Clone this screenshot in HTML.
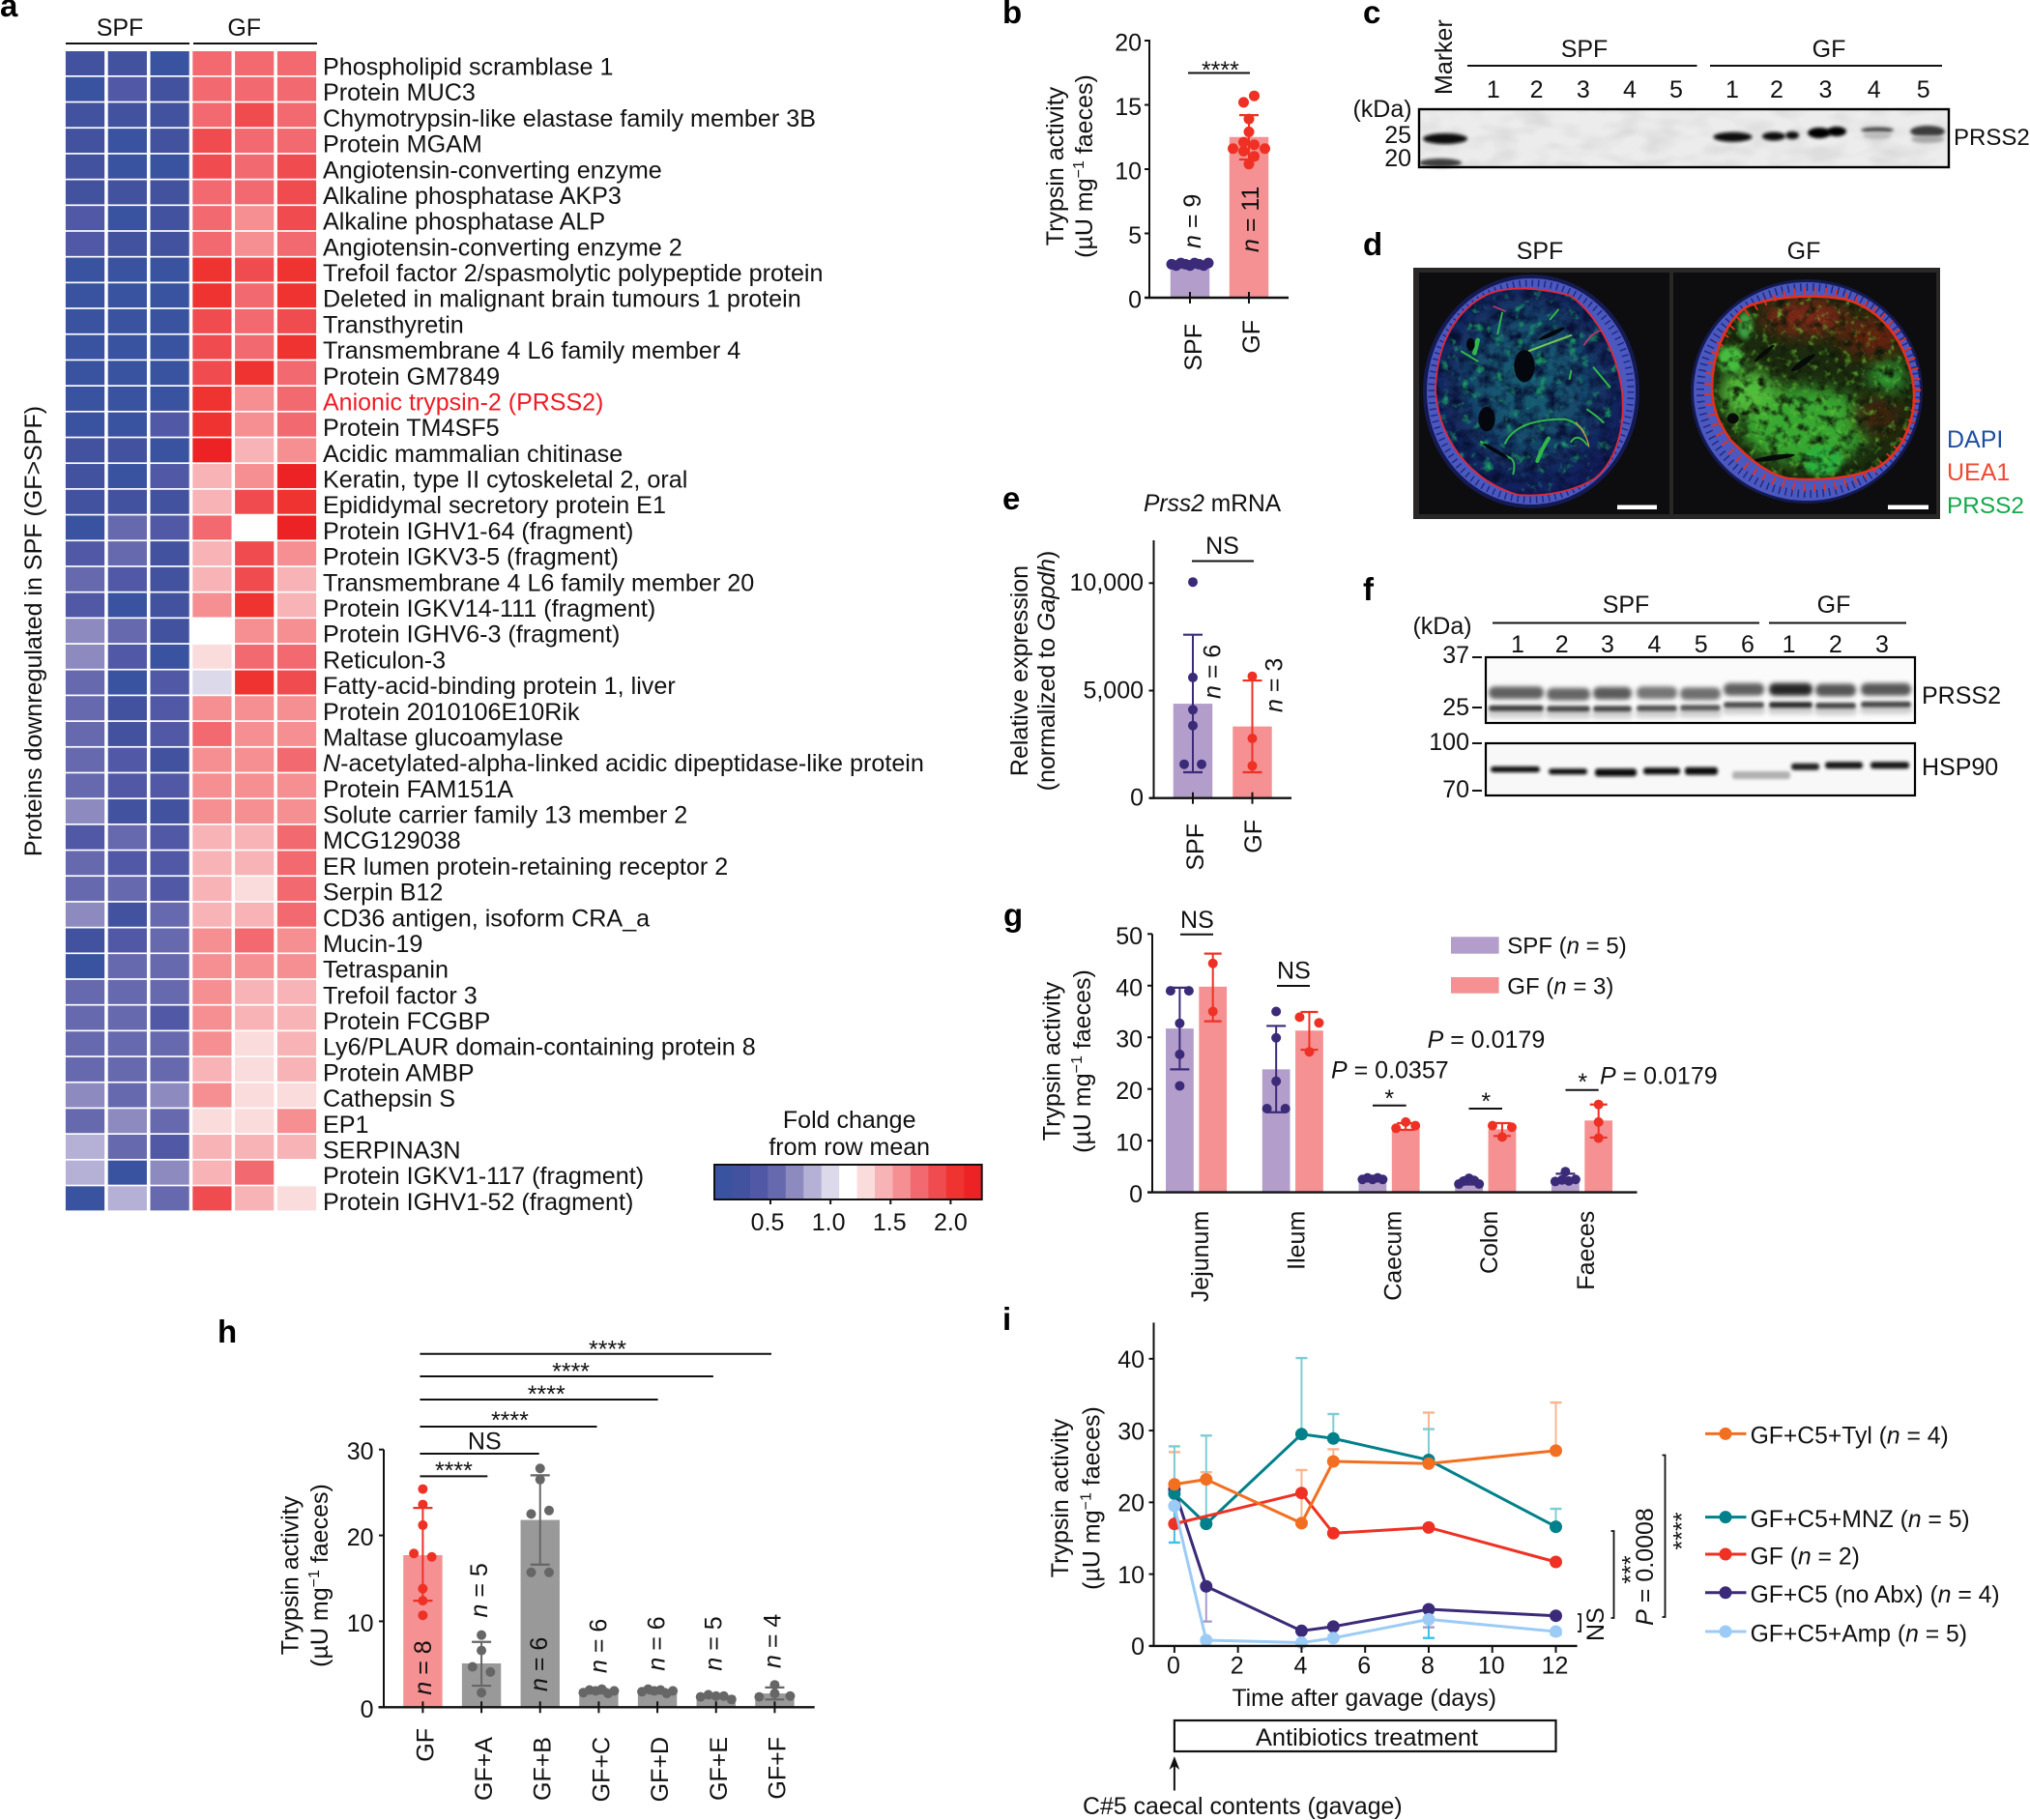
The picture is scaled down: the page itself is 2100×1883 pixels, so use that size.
<!DOCTYPE html>
<html lang="en">
<head>
<meta charset="utf-8">
<title>Trypsin activity figure</title>
<style>
html,body{margin:0;padding:0;background:#fff;width:2100px;height:1883px;overflow:hidden}
svg{display:block;font-family:"Liberation Sans",Arial,sans-serif;font-size:25px;fill:#111}
.pl{font-weight:bold;font-size:33px;fill:#000}
</style>
</head>
<body>
<svg id="fig" xmlns="http://www.w3.org/2000/svg" width="2100" height="1883" viewBox="0 0 2100 1883">
<defs>
<filter id="blur1" x="-30%" y="-150%" width="160%" height="400%"><feGaussianBlur stdDeviation="1.5"/></filter>
<filter id="blur2" x="-30%" y="-150%" width="160%" height="400%"><feGaussianBlur stdDeviation="2.4"/></filter>
<filter id="blurLump" x="-60%" y="-60%" width="220%" height="220%"><feGaussianBlur stdDeviation="24"/></filter>
<filter id="blurSoft" x="-60%" y="-60%" width="220%" height="220%"><feGaussianBlur stdDeviation="7"/></filter>
<filter id="noiseBlot" x="0" y="0" width="1" height="1" color-interpolation-filters="sRGB"><feTurbulence type="fractalNoise" baseFrequency="0.03 0.06" numOctaves="2" seed="5"/><feColorMatrix type="matrix" values="0 0 0 0 0.6  0 0 0 0 0.6  0 0 0 0 0.6  0 0.5 0 0 -0.2"/></filter>
<filter id="noiseTealL" x="0" y="0" width="1" height="1" color-interpolation-filters="sRGB"><feTurbulence type="fractalNoise" baseFrequency="0.09" numOctaves="3" seed="3"/><feColorMatrix type="matrix" values="0 0 0 0 0.03  0 0 0 0 0.06  0 0 0 0 0.2  0 2.2 0 0 -0.8"/></filter>
<filter id="noiseGreenL" x="0" y="0" width="1" height="1" color-interpolation-filters="sRGB"><feTurbulence type="fractalNoise" baseFrequency="0.09" numOctaves="3" seed="11"/><feColorMatrix type="matrix" values="0 0 0 0 0.1  0 0 0 0 0.62  0 0 0 0 0.38  0 3.6 0 0 -2.15"/></filter>
<filter id="noiseGreenR" x="0" y="0" width="1" height="1" color-interpolation-filters="sRGB"><feTurbulence type="fractalNoise" baseFrequency="0.13" numOctaves="3" seed="7"/><feColorMatrix type="matrix" values="0 0 0 0 0.38  0 0 0 0 0.75  0 0 0 0 0.2  0 2.6 0 0 -1.45"/></filter>
<filter id="noiseDarkR" x="0" y="0" width="1" height="1" color-interpolation-filters="sRGB"><feTurbulence type="fractalNoise" baseFrequency="0.1" numOctaves="3" seed="21"/><feColorMatrix type="matrix" values="0 0 0 0 0.06  0 0 0 0 0.1  0 0 0 0 0.03  0 2.6 0 0 -1.2"/></filter>
<clipPath id="clipL"><path d="M1485 405 C1486 350 1510 318 1540 304 C1560 296 1590 297 1625 306 C1650 325 1672 360 1678 405 C1682 450 1668 480 1650 495 C1625 510 1595 514 1570 512 C1530 500 1490 465 1485 405Z"/></clipPath>
<clipPath id="clipR"><path d="M1771 400 C1772 360 1790 325 1810 316 C1840 306 1880 304 1910 310 C1945 320 1970 350 1979 395 C1984 430 1970 465 1945 482 C1920 495 1880 498 1850 495 C1825 490 1805 470 1790 455 C1780 440 1771 425 1771 400Z"/></clipPath>
</defs>

<!-- panel letters -->
<g>
<text class="pl" x="0" y="17">a</text>
<text class="pl" x="1037" y="24">b</text>
<text class="pl" x="1410" y="24">c</text>
<text class="pl" x="1410" y="264">d</text>
<text class="pl" x="1037" y="527">e</text>
<text class="pl" x="1410" y="621">f</text>
<text class="pl" x="1038" y="958">g</text>
<text class="pl" x="225" y="1389">h</text>
<text class="pl" x="1037" y="1376">i</text>
</g>

<!-- panel c blot labels -->
<g>
<rect x="1468" y="113" width="548" height="60" fill="#ececec"/>
<rect x="1468" y="113" width="548" height="60" fill="#000" filter="url(#noiseBlot)"/>
<g id="blotC"></g>
<rect x="1468" y="113" width="548" height="60" fill="none" stroke="#000" stroke-width="2.4"/>
<text x="1502" y="98" transform="rotate(-90 1502 98)">Marker</text>
<text x="1639" y="59" text-anchor="middle">SPF</text>
<text x="1892" y="59" text-anchor="middle">GF</text>
<line x1="1518" y1="68" x2="1755.5" y2="68" stroke="#111" stroke-width="2"/>
<line x1="1769" y1="68" x2="2009" y2="68" stroke="#111" stroke-width="2"/>
<text x="1430" y="121" text-anchor="middle">(kDa)</text>
<text x="1460" y="148" text-anchor="end">25</text>
<text x="1460" y="172" text-anchor="end">20</text>
<text x="2021" y="150" font-size="24">PRSS2</text>
</g>

<!-- panel d -->
<g>
<text x="1593" y="268" text-anchor="middle">SPF</text>
<text x="1866" y="268" text-anchor="middle">GF</text>
<rect x="1462" y="277" width="545" height="260" fill="#2a2727"/>
<rect x="1468" y="282" width="259" height="250" fill="#0d0d0f"/>
<rect x="1731" y="282" width="272" height="250" fill="#0d0d0f"/>

<g>
<ellipse cx="1584" cy="405" rx="112" ry="121" fill="#141a52"/>
<ellipse cx="1584" cy="405" rx="108" ry="117" fill="#4a58c0"/>
<ellipse cx="1584" cy="405" rx="103" ry="112" fill="none" stroke="#222a80" stroke-width="7" stroke-dasharray="1.5 5"/>
<path d="M1485 405 C1486 350 1510 318 1540 304 C1560 296 1590 297 1625 306 C1650 325 1672 360 1678 405 C1682 450 1668 480 1650 495 C1625 510 1595 514 1570 512 C1530 500 1490 465 1485 405Z" fill="#141c5c"/>
<g clip-path="url(#clipL)">
<ellipse cx="1580" cy="395" rx="72" ry="80" fill="#125a72" filter="url(#blurLump)"/>
<rect x="1480" y="295" width="205" height="225" fill="#000" filter="url(#noiseTealL)"/>
<rect x="1480" y="295" width="205" height="225" fill="#000" filter="url(#noiseGreenL)"/>
<g transform="translate(1462 277) scale(.3333)" fill="none" stroke-linecap="round">
<g stroke="#31b84a" stroke-width="6">
<path d="M276 140 L262 205"/>
<path d="M350 262 Q420 235 490 210" stroke="#7ac850"/>
<path d="M285 545 Q320 470 470 470 Q510 480 530 510"/>
<path d="M385 600 Q400 560 420 530" stroke-width="12"/>
<path d="M210 540 Q250 570 300 590"/>
<path d="M540 440 Q570 460 590 480"/>
<path d="M200 225 L190 265" stroke-width="14"/>
<path d="M490 540 Q510 510 540 550"/>
<path d="M310 640 Q320 600 300 590"/>
<path d="M450 130 L425 160"/>
<path d="M490 320 L485 345"/>
<path d="M560 310 L610 370"/>
<path d="M150 260 L200 290"/>
</g>
<g stroke="#d8396a" stroke-width="4">
<path d="M530 240 Q560 195 585 195"/>
<path d="M250 120 L285 135"/>
</g>
<path d="M505 480 Q540 520 545 555" stroke="#c89a50" stroke-width="4"/>
</g>
<g transform="translate(1462 277) scale(.3333)" fill="#05070f">
<ellipse cx="345" cy="305" rx="32" ry="50"/>
<ellipse cx="228" cy="470" rx="26" ry="38"/>
<ellipse cx="178" cy="238" rx="13" ry="20"/>
<ellipse cx="430" cy="205" rx="45" ry="7" transform="rotate(-25 430 205)"/>
<ellipse cx="255" cy="568" rx="45" ry="6" transform="rotate(30 255 568)"/>
</g>
</g>
<path d="M1485 405 C1486 350 1510 318 1540 304 C1560 296 1590 297 1625 306 C1650 325 1672 360 1678 405 C1682 450 1668 480 1650 495 C1625 510 1595 514 1570 512 C1530 500 1490 465 1485 405Z" fill="none" stroke="#e0283a" stroke-width="1.8"/>
</g>

<g>
<ellipse cx="1869" cy="405" rx="120" ry="116" fill="#141a52"/>
<ellipse cx="1869" cy="405" rx="117" ry="113" fill="#4a58c0"/>
<ellipse cx="1871" cy="404" rx="112" ry="107" fill="none" stroke="#222a80" stroke-width="8" stroke-dasharray="1.5 5"/>
<path d="M1771 400 C1772 360 1790 325 1810 316 C1840 306 1880 304 1910 310 C1945 320 1970 350 1979 395 C1984 430 1970 465 1945 482 C1920 495 1880 498 1850 495 C1825 490 1805 470 1790 455 C1780 440 1771 425 1771 400Z" fill="#1b2a0e"/>
<g clip-path="url(#clipR)">
<g transform="translate(1462 277) scale(.3333)">
<ellipse cx="1220" cy="490" rx="200" ry="120" fill="#37a832" filter="url(#blurLump)"/>
<ellipse cx="1040" cy="390" rx="90" ry="75" fill="#4fbc3a" filter="url(#blurLump)"/>
<ellipse cx="985" cy="285" rx="42" ry="42" fill="#45bd3c" filter="url(#blurSoft)"/>
<ellipse cx="1030" cy="180" rx="24" ry="42" fill="#3da040" filter="url(#blurSoft)"/>
<ellipse cx="1270" cy="600" rx="65" ry="45" fill="#2cb03c" filter="url(#blurSoft)"/>
<ellipse cx="1470" cy="340" rx="55" ry="55" fill="#2f9a30" filter="url(#blurLump)"/>
<ellipse cx="1220" cy="155" rx="140" ry="55" fill="#7a2612" filter="url(#blurLump)"/>
<ellipse cx="1420" cy="215" rx="100" ry="60" fill="#642010" filter="url(#blurLump)"/>
<ellipse cx="1440" cy="460" rx="75" ry="60" fill="#3e2410" filter="url(#blurLump)"/>
</g>
<rect x="1765" y="298" width="222" height="205" fill="#000" filter="url(#noiseGreenR)"/>
<rect x="1765" y="298" width="222" height="205" fill="#000" filter="url(#noiseDarkR)"/>
<g transform="translate(1462 277) scale(.3333)" fill="#060a08">
<ellipse cx="1210" cy="295" rx="45" ry="9" transform="rotate(-35 1210 295)"/>
<ellipse cx="992" cy="468" rx="18" ry="16"/>
<ellipse cx="1120" cy="590" rx="65" ry="8" transform="rotate(-8 1120 590)"/>
<ellipse cx="1090" cy="265" rx="40" ry="6" transform="rotate(-40 1090 265)"/>
</g>
</g>
<ellipse cx="1875" cy="403" rx="108" ry="102" fill="none" stroke="#e3301f" stroke-width="8" stroke-dasharray="1.8 9"/>
<path d="M1771 400 C1772 360 1790 325 1810 316 C1840 306 1880 304 1910 310 C1945 320 1970 350 1979 395 C1984 430 1970 465 1945 482 C1920 495 1880 498 1850 495 C1825 490 1805 470 1790 455 C1780 440 1771 425 1771 400Z" fill="none" stroke="#e3301f" stroke-width="2.6"/>
</g>
<rect x="1673" y="522.5" width="41" height="4.5" fill="#fff"/>
<rect x="1953" y="522.5" width="42" height="4.5" fill="#fff"/>
<text x="2014" y="463" style="fill:#1f4ea1">DAPI</text>
<text x="2014" y="497" style="fill:#ef4a32">UEA1</text>
<text x="2014" y="531" font-size="24.4" style="fill:#14a84b">PRSS2</text>
</g>

<!-- panel f -->
<g>
<rect x="1537" y="680" width="444" height="68" fill="#fbfbfb"/>
<rect x="1537" y="769" width="444" height="54" fill="#f8f8f8"/>
<g id="blotF"></g>
<rect x="1537" y="680" width="444" height="68" fill="none" stroke="#000" stroke-width="2.2"/>
<rect x="1537" y="769" width="444" height="54" fill="none" stroke="#000" stroke-width="2.2"/>
<text x="1682" y="634" text-anchor="middle">SPF</text>
<text x="1897" y="634" text-anchor="middle">GF</text>
<line x1="1544" y1="644.5" x2="1820" y2="644.5" stroke="#111" stroke-width="2"/>
<line x1="1830" y1="644.5" x2="1972" y2="644.5" stroke="#111" stroke-width="2"/>
<text x="1492" y="656" text-anchor="middle">(kDa)</text>
<text x="1520" y="686" text-anchor="end">37</text>
<text x="1520" y="740" text-anchor="end">25</text>
<text x="1520" y="776" text-anchor="end">100</text>
<text x="1520" y="825" text-anchor="end">70</text>
<g stroke="#111" stroke-width="2">
<line x1="1523" y1="680" x2="1533" y2="680"/><line x1="1523" y1="732" x2="1533" y2="732"/><line x1="1523" y1="769" x2="1533" y2="769"/><line x1="1523" y1="818" x2="1533" y2="818"/>
</g>
<text x="1988" y="728">PRSS2</text>
<text x="1988" y="802">HSP90</text>
</g>

<!-- chart layers -->
<g id="panelA"></g>
<g id="panelB"></g>
<g id="panelE"></g>
<g id="panelG"></g>
<g id="panelH"></g>
<g id="panelI"></g>
</svg>

<script>
/* ---------- panel a data ---------- */
const proteins = ['Phospholipid scramblase 1','Protein MUC3','Chymotrypsin-like elastase family member 3B','Protein MGAM','Angiotensin-converting enzyme','Alkaline phosphatase AKP3','Alkaline phosphatase ALP','Angiotensin-converting enzyme 2','Trefoil factor 2/spasmolytic polypeptide protein','Deleted in malignant brain tumours 1 protein','Transthyretin','Transmembrane 4 L6 family member 4','Protein GM7849','Anionic trypsin-2 (PRSS2)','Protein TM4SF5','Acidic mammalian chitinase','Keratin, type II cytoskeletal 2, oral','Epididymal secretory protein E1','Protein IGHV1-64 (fragment)','Protein IGKV3-5 (fragment)','Transmembrane 4 L6 family member 20','Protein IGKV14-111 (fragment)','Protein IGHV6-3 (fragment)','Reticulon-3','Fatty-acid-binding protein 1, liver','Protein 2010106E10Rik','Maltase glucoamylase','<tspan font-style="italic">N</tspan>-acetylated-alpha-linked acidic dipeptidase-like protein','Protein FAM151A','Solute carrier family 13 member 2','MCG129038','ER lumen protein-retaining receptor 2','Serpin B12','CD36 antigen, isoform CRA_a','Mucin-19','Tetraspanin','Trefoil factor 3','Protein FCGBP','Ly6/PLAUR domain-containing protein 8','Protein AMBP','Cathepsin S','EP1','SERPINA3N','Protein IGKV1-117 (fragment)','Protein IGHV1-52 (fragment)'];
const highlightedProtein = 'Anionic trypsin-2 (PRSS2)';
const spfFold = [[.26,.26,.11],[.11,.41,.26],[.26,.26,.26],[.26,.11,.26],[.26,.11,.11],[.26,.26,.26],[.41,.11,.26],[.41,.26,.26],[.11,.11,.11],[.11,.11,.11],[.11,.11,.11],[.11,.11,.11],[.11,.11,.11],[.11,.11,.11],[.11,.11,.41],[.26,.26,.11],[.26,.11,.41],[.26,.26,.26],[.11,.55,.41],[.41,.55,.26],[.55,.41,.26],[.41,.11,.26],[.70,.55,.26],[.70,.41,.11],[.55,.11,.41],[.55,.26,.41],[.55,.26,.41],[.55,.41,.26],[.55,.41,.41],[.70,.26,.26],[.41,.55,.41],[.55,.41,.41],[.55,.55,.41],[.70,.26,.55],[.26,.41,.55],[.11,.55,.55],[.55,.55,.55],[.55,.55,.41],[.55,.55,.55],[.55,.55,.55],[.70,.55,.70],[.55,.70,.55],[.85,.55,.41],[.85,.11,.70],[.11,.85,.55]];
const gfFold = [[1.74,1.74,1.74],[1.74,1.74,1.74],[1.74,1.89,1.74],[1.89,1.74,1.74],[1.89,1.74,1.89],[1.74,1.74,1.89],[1.74,1.59,1.89],[1.74,1.59,1.74],[2.04,1.89,2.04],[2.04,1.74,2.04],[1.89,1.74,1.89],[1.89,1.74,2.04],[1.89,2.04,1.74],[2.04,1.59,1.74],[2.04,1.59,1.74],[2.19,1.44,1.59],[1.44,1.59,2.19],[1.44,1.89,2.04],[1.74,1.15,2.19],[1.44,1.89,1.59],[1.44,1.89,1.44],[1.59,2.04,1.44],[1.15,1.59,1.59],[1.30,1.74,1.74],[1.00,2.04,1.89],[1.59,1.59,1.59],[1.74,1.59,1.59],[1.59,1.59,1.74],[1.59,1.59,1.59],[1.59,1.59,1.59],[1.44,1.44,1.74],[1.44,1.44,1.74],[1.44,1.30,1.74],[1.44,1.44,1.74],[1.59,1.74,1.59],[1.59,1.59,1.59],[1.59,1.44,1.44],[1.59,1.44,1.44],[1.59,1.30,1.44],[1.44,1.30,1.44],[1.59,1.30,1.30],[1.30,1.30,1.59],[1.44,1.44,1.44],[1.44,1.74,1.15],[1.89,1.44,1.30]];
const colorbarTicks = [0.5, 1.0, 1.5, 2.0];
const colorbarTickLabels = ['0.5','1.0','1.5','2.0'];
const foldMin = 0.033, foldMax = 2.26;

/* ---------- panel b data ---------- */
const bCategories = ['SPF','GF'];
const bMeans = [2.6, 12.5];
const bErrHigh = [2.85, 14.2];
const bErrLow = [2.35, 10.75];
const bPoints = [[2.6,2.5,2.7,2.6,2.5,2.7,2.6,2.5,2.7],[15.2,15.7,13.9,12.9,11.6,12.1,11.9,11.4,11.6,11.0,10.4]];
const bTicks = [0,5,10,15,20];
const bNLabels = ['9','11'];

/* ---------- panel e data ---------- */
const eCategories = ['SPF','GF'];
const eMeans = [4390, 3330];
const eErrHigh = [7600, 5470];
const eErrLow = [1200, 1200];
const ePoints = [[10050,5610,4110,3372,1574,1574],[5666,2774,1500]];
const eTicks = [0,5000,10000];
const eTickLabels = ['0','5,000','10,000'];
const eNLabels = ['6','3'];

/* ---------- panel g data ---------- */
const gCategories = ['Jejunum','Ileum','Caecum','Colon','Faeces'];
const gSpfMeans = [31.7,23.8,2.7,2.0,2.8];
const gGfMeans = [39.8,31.3,12.3,12.2,13.9];
const gSpfErrHigh = [39.6,32.2,3.0,2.6,3.6];
const gSpfErrLow = [23.8,15.5,2.4,1.5,2.1];
const gGfErrHigh = [46.2,34.9,13.4,13.4,17];
const gGfErrLow = [33.1,27.6,12.1,10.9,10.6];
const gSpfPoints = [[39,39,32.7,26.7,20.6],[35,29.9,21.5,16.2,16.2],[2.5,2.8,2.5,2.8,2.5],[1.6,2.2,2.7,2.3,1.6],[2.1,4,2.4,2.2,2.5]];
const gGfPoints = [[44.3,35],[33.9,32.8,27.2],[12.4,13.6,12.9],[12.9,12.6,10.7],[17,13.6,10.5]];
const gTicks = [0,10,20,30,40,50];

/* ---------- panel h data ---------- */
const hCategories = ['GF','GF+A','GF+B','GF+C','GF+D','GF+E','GF+F'];
const hMeans = [17.7,5.1,21.8,1.9,1.9,1.35,1.6];
const hErrHigh = [23.2,7.6,27,2.1,2.1,1.5,2.3];
const hErrLow = [12.4,2.5,16.6,1.6,1.6,1.1,0.9];
const hPoints = [[25.4,23.6,21.2,17.9,17.5,13.8,12.4,10.7],[8.4,6.6,4.7,4.1,1.7],[27.8,26.5,22.5,22.9,15.7,15.7],[1.7,2,1.9,2.1,1.6,1.9],[1.8,2.1,1.9,2.0,1.6,1.9],[1.2,1.45,1.3,1.3,0.9],[1.2,2.6,1.6,1.3]];
const hTicks = [0,10,20,30];
const hNLabels = ['8','5','6','6','6','5','4'];

/* ---------- panel i data ---------- */
const iDays = [0,1,4,5,8,12];
const iDaysGF = [0,4,5,8,12];
const iXTicks = [0,2,4,6,8,10,12];
const iYTicks = [0,10,20,30,40];
const iTyl = [22.5,23.2,17.1,25.7,25.4,27.2];
const iTylErrHigh = [27,24.2,24.5,27.4,32.5,33.9];
const iMNZ = [21.2,17,29.5,28.9,25.9,16.6];
const iMNZErrHigh = [27.8,29.3,40.1,32.3,30.2,19.1];
const iGF = [17,21.3,15.7,16.5,11.7];
const iNoAbx = [21.8,8.3,2.1,2.7,5.1,4.2];
const iNoAbxErrLow = [21.8,3.4,2.1,2.7,2.6,4.2];
const iAmp = [19.5,0.8,0.45,1.1,3.7,2];
const iAmpErrLow = [14.4,0.8,0.45,1.1,1.1,1.6];

/* ---------- styles ---------- */
const foldColors = ['#3a53a0','#42529f','#5159a6','#6669ae','#8d8abf','#b4b0d6','#dcd9ea','#ffffff','#fadcdc','#f8b3b7','#f58f92','#f26a70','#f04c50','#ee3330','#ec2224'];
const PURPLE='#3b2a78', RED='#ee3124', BAR_P='#b39ecb', BAR_R='#f59193', GREY='#999999', GREY_D='#666666';

/* ---------- helpers ---------- */
const SVGNS='http://www.w3.org/2000/svg';
function el(tag, attrs, parent, name) {
  const e=document.createElementNS(SVGNS,tag);
  for(const k in attrs) e.setAttribute(k,attrs[k]);
  
  
  parent.appendChild(e);
  return e;
}
function ln(p,x1,y1,x2,y2,c,w,name){ return el('line',{x1:x1,y1:y1,x2:x2,y2:y2,stroke:c,'stroke-width':w},p,name); }
function tx(p,x,y,html,name,o){
  o=o||{};
  const a={x:x,y:y};
  if(o.anchor) a['text-anchor']=o.anchor;
  if(o.rot) a.transform='rotate(-90 '+x+' '+y+')';
  if(o.size) a['font-size']=o.size;
  if(o.fill) a.style='fill:'+o.fill;
  const t=el('text',a,p,name);
  t.innerHTML=html;
  return t;
}
function linear(d0,d1,r0,r1){ return v=>r0+(v-d0)*(r1-r0)/(d1-d0); }
function yAxis(p,x,top,bottom,ticks,y,labels,labelX,labelDy){
  ln(p,x,top,x,bottom,'#111',2,'y-axis-line');
  ticks.forEach((t,i)=>{
    ln(p,x-5,y(t),x,y(t),'#111',2,'y-axis-tick');
    tx(p,labelX,y(t)+labelDy,labels?labels[i]:String(t),'y-axis-tick-label',{anchor:'end'});
  });
}
const ACT1='Trypsin activity';
const ACT2='(µU mg<tspan font-size="16" dy="-9">−1</tspan><tspan dy="9"> faeces)</tspan>';
function yTitle(p,x,cy,html){ tx(p,x,cy,html,'y-axis-title',{rot:true,anchor:'middle'}); }
function bar(p,cx,w,v,y,c,name){ el('rect',{x:cx-w/2,y:y(v),width:w,height:y(0)-y(v),fill:c},p,name); }
function err(p,cx,hi,lo,y,c,capW){
  ln(p,cx,y(hi),cx,y(lo),c,2,'error-bar');
  ln(p,cx-capW/2,y(hi),cx+capW/2,y(hi),c,2.2,'error-cap-upper');
  ln(p,cx-capW/2,y(lo),cx+capW/2,y(lo),c,2.2,'error-cap-lower');
}
/* Prism-style scatter: points close in y share a row and are spread symmetrically */
function scatter(p,cx,vals,y,c,o){
  const idx=vals.map((v,i)=>i).sort((a,b)=>vals[b]-vals[a]||a-b);
  const bins=[]; let cur=null;
  idx.forEach(i=>{
    if(cur && Math.abs(y(vals[cur[0]])-y(vals[i]))<=o.bin) cur.push(i);
    else { cur=[i]; bins.push(cur); }
  });
  bins.forEach(b=>{
    b.sort((m,n)=>m-n);
    const step=b.length>1?Math.min(o.step,o.maxW/(b.length-1)):0;
    b.forEach((i,k)=>{
      el('circle',{cx:cx+(k-(b.length-1)/2)*step,cy:y(vals[i]),r:o.r,fill:c},p,'data-point');
    });
  });
}
function nLabel(p,x,y,val){ tx(p,x,y,'<tspan font-style="italic">n</tspan> = '+val,'sample-size-label',{rot:true}); }
function sigLine(p,x1,x2,y){ ln(p,x1,y,x2,y,'#111',2,'significance-line'); }

/* ---------- panel a ---------- */
(function(){
  const g=document.getElementById('panelA');
  const colX=c=>67.9+43.8*c, rowY=r=>53+26.69*r;
  const colorOf=v=>foldColors[Math.max(0,Math.min(14,Math.floor((v-foldMin)/((foldMax-foldMin)/15))))];
  tx(g,124,37,'SPF','heatmap-spf-label',{anchor:'middle'});
  tx(g,252.7,37,'GF','heatmap-gf-label',{anchor:'middle'});
  ln(g,68,45,196,45,'#111',2,'heatmap-spf-bracket');
  ln(g,200,45,328,45,'#111',2,'heatmap-gf-bracket');
  proteins.forEach((name,r)=>{
    const row=spfFold[r].concat(gfFold[r]);
    row.forEach((v,c)=>{
      el('rect',{x:colX(c),y:rowY(r),width:40.2,height:25,fill:colorOf(v)},g,'heatmap-cell');
    });
    const opt=name===highlightedProtein?{fill:'#ee1c25',size:25}:{size:25.15};
    tx(g,334,rowY(r)+24.5,name,'protein-label',opt);
  });
  tx(g,43,653,'Proteins downregulated in SPF (GF&gt;SPF)','heatmap-y-title',{rot:true,anchor:'middle'});
  /* colour bar */
  const cb=linear(foldMin,foldMax,739,1015.7);
  const lw=(foldMax-foldMin)/15;
  foldColors.forEach((c,i)=>{
    el('rect',{x:cb(foldMin+i*lw),y:1205,width:cb(foldMin+lw)-cb(foldMin)+0.4,height:36,fill:c},g,'colorbar-segment');
  });
  el('rect',{x:739,y:1205,width:276.7,height:36,fill:'none',stroke:'#111','stroke-width':2},g,'colorbar-frame');
  colorbarTicks.forEach((t,i)=>{
    ln(g,cb(t),1241,cb(t),1246,'#111',2,'colorbar-tick');
    tx(g,cb(t)-3+(t-0.5)*2,1273,colorbarTickLabels[i],'colorbar-tick-label',{anchor:'middle'});
  });
  tx(g,878.7,1167,'Fold change','colorbar-title-line-1',{anchor:'middle'});
  tx(g,878.7,1195,'from row mean','colorbar-title-line-2',{anchor:'middle'});
})();

/* ---------- panel b ---------- */
(function(){
  const g=document.getElementById('panelB');
  const y=linear(0,20,308,42);
  const cx=[1231,1292];
  const fills=[BAR_P,BAR_R], dark=[PURPLE,RED];
  const nX=[1242,1302], nY=[257,261], labX=[1243,1303], labY=[335,331];
  bCategories.forEach((c,i)=>{
    bar(g,cx[i],40.5,bMeans[i],y,fills[i],'bar-'+c.toLowerCase());
    ln(g,cx[i],y(0)-6,cx[i],y(0)+6,'#111',2,'x-axis-tick');
    err(g,cx[i],bErrHigh[i],bErrLow[i],y,dark[i],20);
    scatter(g,cx[i],bPoints[i],y,dark[i],{r:5.5,bin:8,step:11,maxW:38});
    nLabel(g,nX[i],nY[i],bNLabels[i]);
    tx(g,labX[i],labY[i],c,'x-axis-label',{rot:true,anchor:'end'});
  });
  yAxis(g,1189,41,308,bTicks,y,null,1181,10.3);
  ln(g,1184,308,1333,308,'#111',2.4,'x-axis-line');
  yTitle(g,1100,172,ACT1);
  yTitle(g,1130,172,ACT2);
  sigLine(g,1229,1293,75.5);
  tx(g,1262.4,81,'****','significance-stars',{anchor:'middle'});
})();

/* ---------- panel e ---------- */
(function(){
  const g=document.getElementById('panelE');
  const y=linear(0,10000,825.7,603.3);
  const cx=[1234,1295.5];
  const fills=[BAR_P,BAR_R], dark=[PURPLE,RED];
  const nX=[1262.5,1326.5], nY=[723,737], labX=[1245,1305], labY=[852,848];
  eCategories.forEach((c,i)=>{
    bar(g,cx[i],40.5,eMeans[i],y,fills[i],'bar-'+c.toLowerCase());
    ln(g,cx[i],y(0)-6,cx[i],y(0)+6,'#111',2,'x-axis-tick');
    err(g,cx[i],eErrHigh[i],eErrLow[i],y,dark[i],20);
    scatter(g,cx[i],ePoints[i],y,dark[i],{r:5,bin:7,step:18,maxW:34});
    nLabel(g,nX[i],nY[i],eNLabels[i]);
    tx(g,labX[i],labY[i],c,'x-axis-label',{rot:true,anchor:'end'});
  });
  yAxis(g,1193.5,559,825.7,eTicks,y,eTickLabels,1183,7.8);
  ln(g,1189,825.7,1336,825.7,'#111',2.4,'x-axis-line');
  yTitle(g,1063,694,'Relative expression');
  yTitle(g,1091,694,'(normalized to <tspan font-style="italic">Gapdh</tspan>)');
  tx(g,1183,529,'<tspan font-style="italic">Prss2</tspan> mRNA','chart-title',{size:24.6});
  sigLine(g,1233,1297,580.5);
  tx(g,1264.5,573,'NS','significance-ns',{anchor:'middle'});
})();

/* ---------- panel g ---------- */
(function(){
  const g=document.getElementById('panelG');
  const y=linear(0,50,1233.6,966.3);
  const group=i=>1220.4+99.75*i;
  gCategories.forEach((c,i)=>{
    const a=group(i), b=a+34.3;
    bar(g,a,28.8,gSpfMeans[i],y,BAR_P,'bar-spf-'+c.toLowerCase());
    bar(g,b,28.8,gGfMeans[i],y,BAR_R,'bar-gf-'+c.toLowerCase());
    err(g,a,gSpfErrHigh[i],gSpfErrLow[i],y,PURPLE,20);
    err(g,b,gGfErrHigh[i],gGfErrLow[i],y,RED,18);
    scatter(g,a,gSpfPoints[i],y,PURPLE,{r:5,bin:7,step:19,maxW:21});
    scatter(g,b,gGfPoints[i],y,RED,{r:5,bin:7,step:20,maxW:20});
    tx(g,a+29.5,1252.7,c,'x-axis-label',{rot:true,anchor:'end'});
  });
  yAxis(g,1192,966.3,1233.6,gTicks,y,null,1182,10.5);
  ln(g,1187,1233.6,1693.5,1233.6,'#111',2.4,'x-axis-line');
  yTitle(g,1096.5,1098,ACT1);
  yTitle(g,1128,1098,ACT2);
  sigLine(g,1221,1255,966.7); tx(g,1238.4,960,'NS','significance-ns',{anchor:'middle'});
  sigLine(g,1321,1355,1020); tx(g,1338.4,1012.7,'NS','significance-ns',{anchor:'middle'});
  sigLine(g,1420,1454.7,1143.7); tx(g,1437.3,1145,'*','significance-star',{anchor:'middle'});
  sigLine(g,1519.5,1554,1147); tx(g,1537.3,1148,'*','significance-star',{anchor:'middle'});
  sigLine(g,1619.5,1653.7,1127.7); tx(g,1637.3,1128,'*','significance-star',{anchor:'middle'});
  const P='<tspan font-style="italic">P</tspan> = ';
  tx(g,1476.6,1084,P+'0.0179','p-value-colon');
  tx(g,1377,1115.3,P+'0.0357','p-value-caecum');
  tx(g,1655,1121.3,P+'0.0179','p-value-faeces');
  el('rect',{x:1501,y:969.3,width:49.6,height:17.4,fill:BAR_P},g,'legend-swatch-spf');
  tx(g,1559.3,986.7,'SPF (<tspan font-style="italic">n</tspan> = 5)','legend-label-spf',{size:24});
  el('rect',{x:1501,y:1011,width:49.6,height:16.7,fill:BAR_R},g,'legend-swatch-gf');
  tx(g,1559.3,1028.3,'GF (<tspan font-style="italic">n</tspan> = 3)','legend-label-gf',{size:24});
})();

/* ---------- panel h ---------- */
(function(){
  const g=document.getElementById('panelH');
  const y=linear(0,30,1766.3,1499.7);
  const cx=i=>437.4+60.67*i;
  const nX=[446,504,566,627.6,687.4,746.3,807.3], nY=[1753.6,1673.5,1750,1731,1728.6,1728.6,1726];
  hCategories.forEach((c,i)=>{
    const fill=i===0?BAR_R:GREY, dark=i===0?RED:GREY_D;
    bar(g,cx(i),40.4,hMeans[i],y,fill,'bar-'+c.toLowerCase().replace('+','-'));
    ln(g,cx(i),y(0)-6,cx(i),y(0)+6,'#111',2,'x-axis-tick');
    err(g,cx(i),hErrHigh[i],hErrLow[i],y,dark,20);
    scatter(g,cx(i),hPoints[i],y,dark,{r:5,bin:7,step:18.5,maxW:32});
    nLabel(g,nX[i],nY[i],hNLabels[i]);
    tx(g,cx(i)+11,i===0?1788:1797,c,'x-axis-label',{rot:true,anchor:'end'});
  });
  yAxis(g,397,1499.7,1766.3,hTicks,y,null,386.5,10.5);
  ln(g,391.5,1766.3,842.7,1766.3,'#111',2.4,'x-axis-line');
  yTitle(g,308.6,1630,ACT1);
  yTitle(g,339,1630,ACT2);
  sigLine(g,434.4,504.3,1527.4); tx(g,469.4,1530,'****','significance-stars',{anchor:'middle'});
  sigLine(g,434.4,557.7,1504); tx(g,501.3,1499.4,'NS','significance-ns',{anchor:'middle'});
  sigLine(g,434.4,617.5,1476); tx(g,527.4,1478,'****','significance-stars',{anchor:'middle'});
  sigLine(g,434.4,680.6,1448); tx(g,565.3,1451,'****','significance-stars',{anchor:'middle'});
  sigLine(g,434.4,737.9,1424); tx(g,590.6,1427.5,'****','significance-stars',{anchor:'middle'});
  sigLine(g,434.4,798,1400.7); tx(g,628.5,1404.5,'****','significance-stars',{anchor:'middle'});
})();

/* ---------- panel i ---------- */
(function(){
  const g=document.getElementById('panelI');
  const x=linear(0,12,1214.9,1609.5), y=linear(0,40,1702.9,1405.8);
  const TYL='#f26f21', MNZ='#00808a', AMP='#9ccbf5';
  function errs(days,a,b,c){
    days.forEach((d,i)=>{
      if(a[i]===b[i]) return;
      ln(g,x(d),y(a[i]),x(d),y(b[i]),c,2,'error-bar');
      ln(g,x(d)-6,y(b[i]),x(d)+6,y(b[i]),c,2.4,'error-cap');
    });
  }
  errs(iDays,iTyl,iTylErrHigh,'#f9b48c');
  errs(iDays,iMNZ,iMNZErrHigh,'#7fcdd3');
  errs(iDays,iNoAbx,iNoAbxErrLow,'#a99cc9');
  errs(iDays,iAmp,iAmpErrLow,'#3cbfea');
  function series(days,vals,c,name){
    el('polyline',{points:days.map((d,i)=>x(d)+','+y(vals[i])).join(' '),fill:'none',stroke:c,'stroke-width':3},g,name+'-line');
    days.forEach((d,i)=>{
      el('circle',{cx:x(d),cy:y(vals[i]),r:6.5,fill:c},g,name+'-point');
    });
  }
  series(iDays,iNoAbx,PURPLE,'series-no-abx');
  series(iDays,iMNZ,MNZ,'series-mnz');
  series(iDaysGF,iGF,RED,'series-gf');
  series(iDays,iTyl,TYL,'series-tyl');
  series(iDays,iAmp,AMP,'series-amp');
  yAxis(g,1193.5,1368.4,1702.9,iYTicks,y,null,1184,9.2);
  ln(g,1189,1702.9,1631.6,1702.9,'#111',2.4,'x-axis-line');
  iXTicks.forEach(t=>{
    ln(g,x(t),1702.9,x(t),1710,'#111',2,'x-axis-tick');
    tx(g,x(t)-1,1731.5,String(t),'x-axis-tick-label',{anchor:'middle'});
  });
  tx(g,1411.2,1765,'Time after gavage (days)','x-axis-title',{anchor:'middle',size:24.7});
  yTitle(g,1105,1550,ACT1);
  yTitle(g,1137.5,1550,ACT2);
  el('rect',{x:1214.9,y:1780,width:394.6,height:32,fill:'none',stroke:'#111','stroke-width':2.2},g,'antibiotics-box');
  tx(g,1414,1806,'Antibiotics treatment','antibiotics-label',{anchor:'middle',size:25.4});
  ln(g,1214.9,1825,1214.9,1852.5,'#111',2,'gavage-arrow-shaft');
  el('polygon',{points:'1214.9,1817 1209.5,1831 1214.9,1827 1220.3,1831',fill:'#111'},g,'gavage-arrow-head');
  tx(g,1120,1877,'C#5 caecal contents (gavage)','gavage-label',{size:24.9});
  /* legend */
  const legendY=[1483.4,1569.6,1608,1647.8,1688];
  const legendC=[TYL,MNZ,RED,PURPLE,AMP];
  const legendT=['GF+C5+Tyl (<tspan font-style="italic">n</tspan> = 4)','GF+C5+MNZ (<tspan font-style="italic">n</tspan> = 5)','GF (<tspan font-style="italic">n</tspan> = 2)','GF+C5 (no Abx) (<tspan font-style="italic">n</tspan> = 4)','GF+C5+Amp (<tspan font-style="italic">n</tspan> = 5)'];
  legendT.forEach((t,i)=>{
    ln(g,1764,legendY[i],1806.5,legendY[i],legendC[i],3,'legend-line');
    el('circle',{cx:1785,cy:legendY[i],r:6.5,fill:legendC[i]},g,'legend-marker');
    tx(g,1810.6,legendY[i]+10.3,t,'legend-label',{size:24.7});
  });
  /* brackets */
  function bracket(xv,y1,y2){
    el('polyline',{points:(xv-3)+','+y1+' '+xv+','+y1+' '+xv+','+y2+' '+(xv-3)+','+y2,fill:'none',stroke:'#111','stroke-width':1.8},g,'significance-bracket');
  }
  bracket(1635,1670,1688);
  tx(g,1659,1680.6,'NS','significance-ns',{rot:true,anchor:'middle'});
  bracket(1669.5,1584,1674);
  tx(g,1695.5,1624,'***','significance-stars',{rot:true,anchor:'middle'});
  tx(g,1710,1621,'<tspan font-style="italic">P</tspan> = 0.0008','p-value',{rot:true,anchor:'middle'});
  bracket(1722.5,1505.5,1673);
  tx(g,1748.5,1584,'****','significance-stars',{rot:true,anchor:'middle'});
})();

/* ---------- blots (image-like panels) ---------- */
(function(){
  const c=document.getElementById('blotC');
  const blot=document.getElementById('fig');
  const labC=[1544.8,1589.6,1637.8,1686,1734,1792,1838,1888.5,1938.7,1989.7];
  const laneNames=['1','2','3','4','5','1','2','3','4','5'];
  labC.forEach((x,i)=>{
    tx(blot,x,101,laneNames[i],'blot-c-lane-label',{anchor:'middle'});
  });
  const bandsC=[[1495,143.5,23,5.5,'#0a0a0a'],[1490,168.5,22,4.5,'#3c3c3c'],[1792.5,141.7,20,5,'#0a0a0a'],[1835,141,12,4.5,'#0a0a0a'],[1854,140,7,4,'#0a0a0a'],[1882,137.5,12,5.5,'#050505'],[1900,136,10,5,'#050505'],[1942,134.5,17,3,'#444444'],[1942,140,15,4,'#bcbcbc'],[1994,136,18,6,'#3a3a3a'],[1994,144,17,4,'#a8a8a8']];
  bandsC.forEach(b=>{
    el('ellipse',{cx:b[0],cy:b[1],rx:b[2],ry:b[3],fill:b[4],filter:'url(#blur1)'},c,'blot-c-band');
  });
  const f=document.getElementById('blotF');
  const labF=[1570,1615.7,1663,1711.5,1759.7,1807.9,1850.6,1898.8,1947];
  const labFT=['1','2','3','4','5','6','1','2','3'];
  labF.forEach((x,i)=>{
    tx(blot,x,675,labFT[i],'blot-f-lane-label',{anchor:'middle'});
  });
  const lanes=[[1540,1597],[1600,1645],[1648,1688],[1693,1735],[1738,1780],[1783,1825],[1830,1875],[1878,1920],[1925,1977]];
  const upperY=[716.7,718.3,717.3,716.7,717.7,713.3,713.3,714,713.3], upperC=['#606060','#666666','#5c5c5c','#767676','#707070','#606060','#262626','#565656','#585858'];
  const lowerY=[732.7,733.3,733.3,732.7,732.3,729.3,729.3,730,728.7], lowerC=['#3a3a3a','#444444','#444444','#4e4e4e','#555555','#4a4a4a','#282828','#444444','#444444'];
  lanes.forEach((l,i)=>{
    el('rect',{x:l[0]-1,y:lowerY[i]+1,width:l[1]-l[0]+2,height:9,rx:4,fill:'#cfcfcf',filter:'url(#blur2)'},f,'blot-f-prss2-smear');
    el('rect',{x:l[0],y:upperY[i]-6.5,width:l[1]-l[0],height:13,rx:6,fill:upperC[i],filter:'url(#blur2)'},f,'blot-f-prss2-upper-band');
    el('rect',{x:l[0],y:lowerY[i]-3,width:l[1]-l[0],height:6,rx:3,fill:lowerC[i],filter:'url(#blur1)'},f,'blot-f-prss2-lower-band');
  });
  const hspLanes=[[1542,1593],[1602,1642],[1650,1693],[1700,1738],[1743,1777],[1792,1852],[1853,1882],[1888,1927],[1935,1975]];
  const hspY=[796,798.3,799.3,797.7,797.7,802,793.3,791.7,791.7], hspH=[6,6,8,7,8,8,7,7,7];
  const hspC=['#111','#111','#0a0a0a','#111','#111','#b0b0b0','#222','#151515','#151515'];
  hspLanes.forEach((l,i)=>{
    el('rect',{x:l[0],y:hspY[i]-hspH[i]/2,width:l[1]-l[0],height:hspH[i],rx:3,fill:hspC[i],filter:'url(#blur1)'},f,'blot-f-hsp90-band');
  });
})();
</script>
</body>
</html>
